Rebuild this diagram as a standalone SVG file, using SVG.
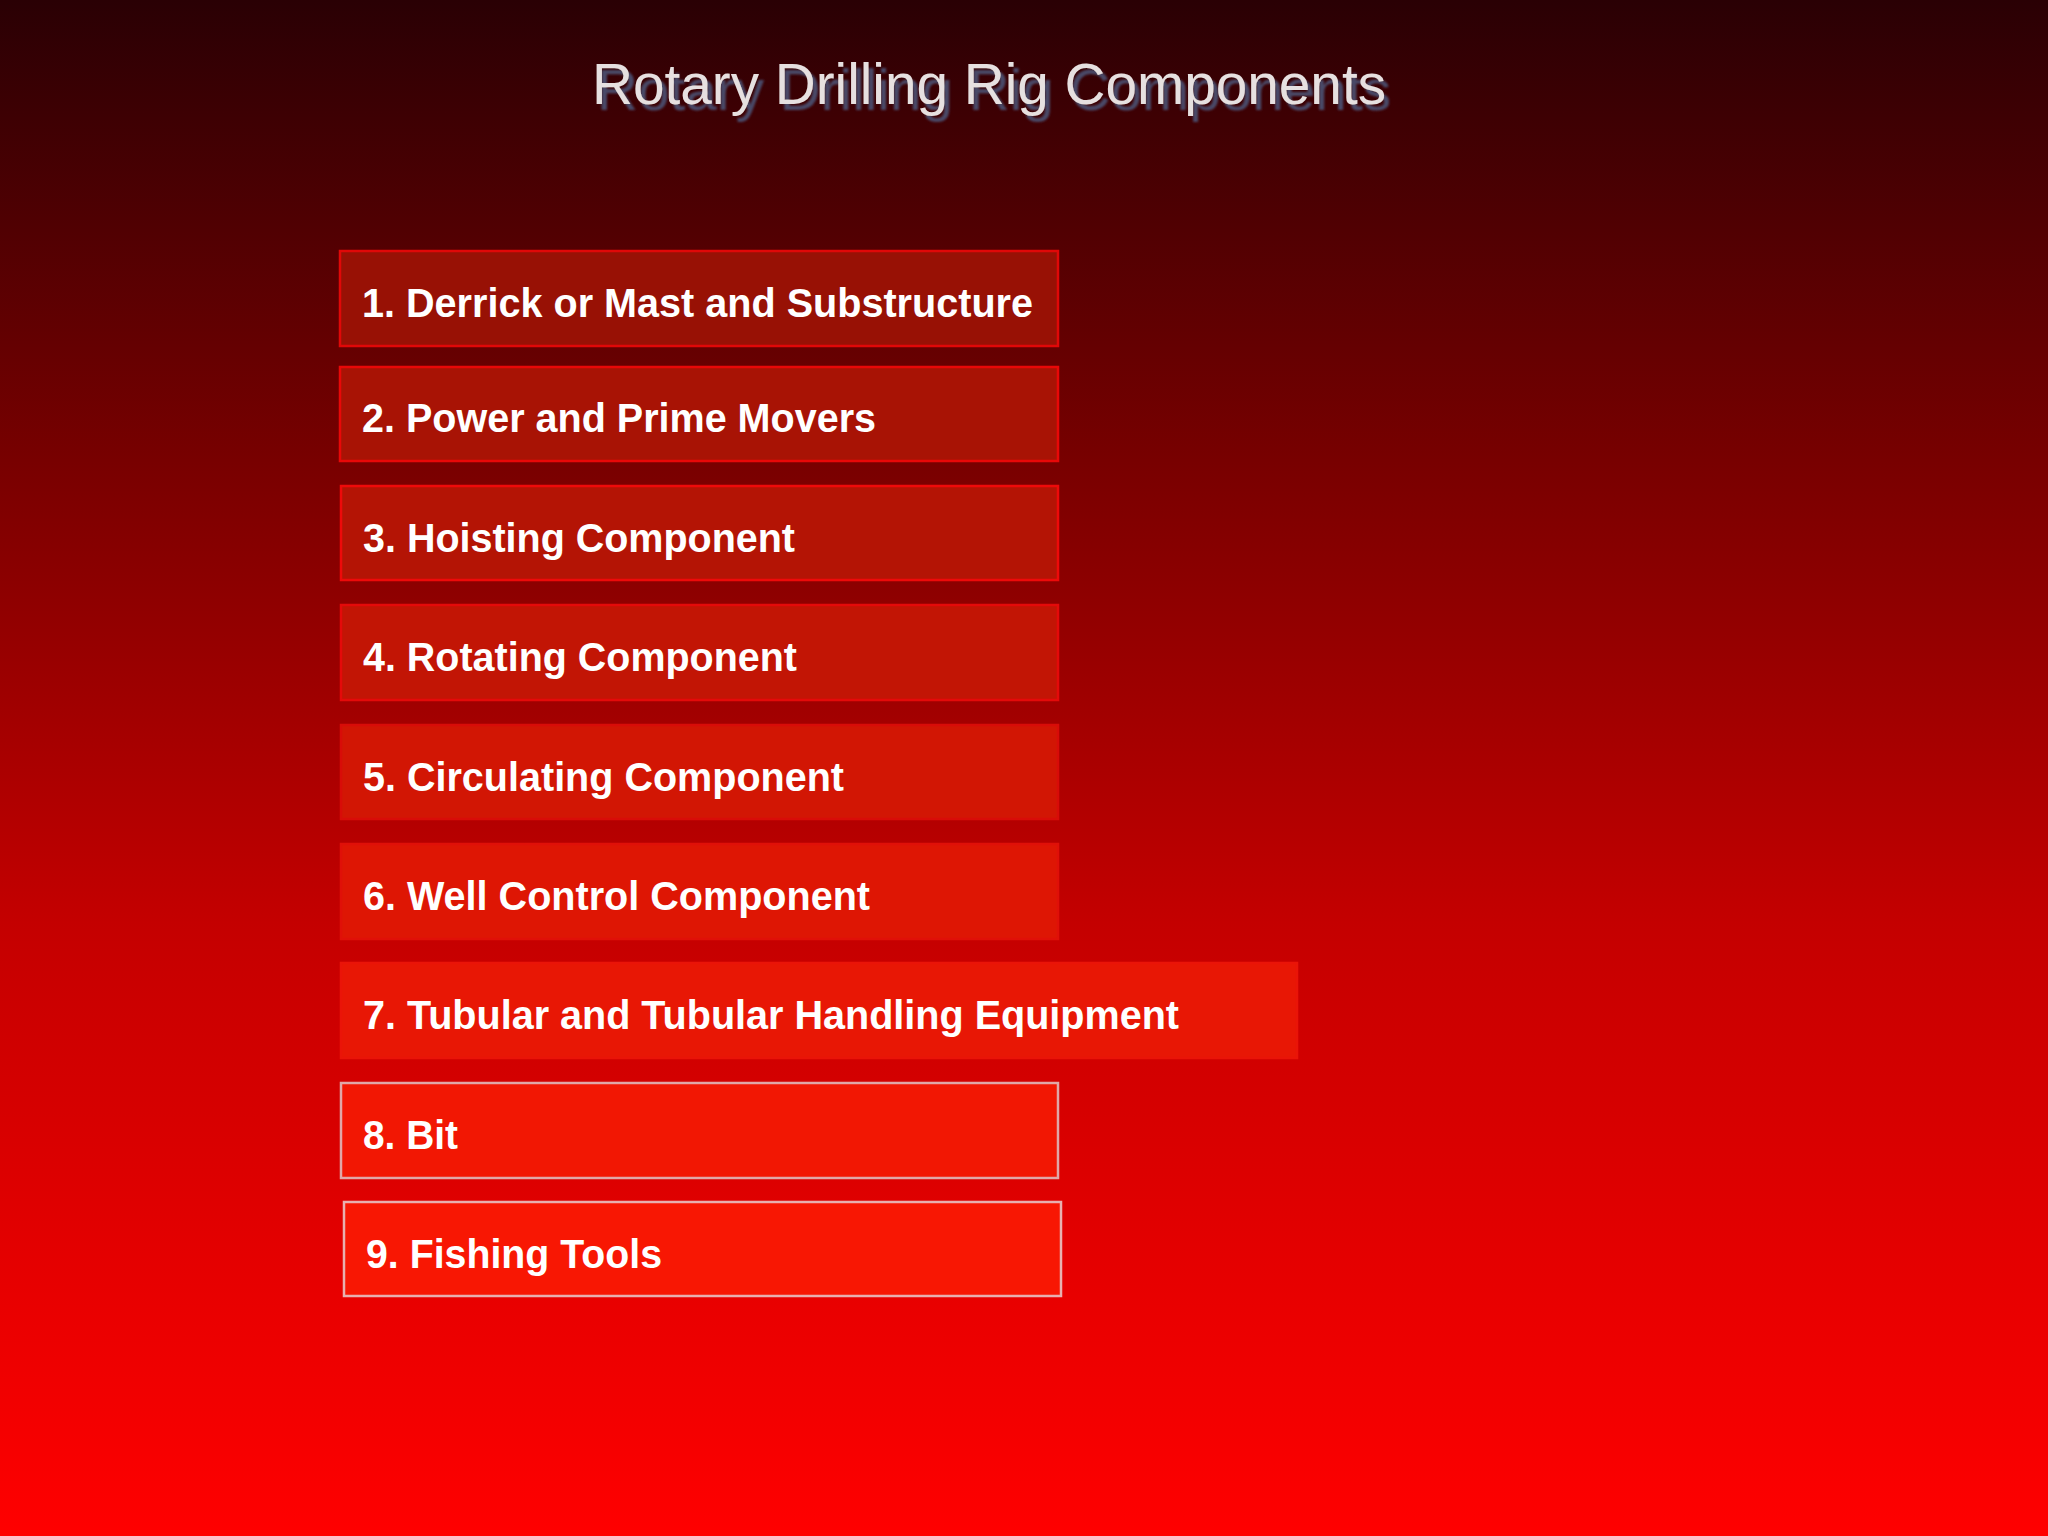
<svg xmlns="http://www.w3.org/2000/svg" width="2048" height="1536" viewBox="0 0 2048 1536">
<defs>
<linearGradient id="bg" x1="0" y1="0" x2="0" y2="1">
<stop offset="0" stop-color="#2a0004"/>
<stop offset="0.3" stop-color="#780000"/>
<stop offset="0.6" stop-color="#c40000"/>
<stop offset="1" stop-color="#ff0000"/>
</linearGradient>
<filter id="sh" x="-5%" y="-30%" width="110%" height="160%">
<feDropShadow dx="5" dy="6" stdDeviation="0.8" flood-color="#4a4868" flood-opacity="1"/>
</filter>
</defs>
<style>
.t{font-family:"Liberation Sans",Arial,sans-serif;font-weight:bold;font-size:40px;fill:#ffffff}
.ttl{font-family:"Liberation Sans",Arial,sans-serif;font-size:58px}
.b{stroke-width:2.5}
</style>
<rect width="2048" height="1536" fill="url(#bg)"/>
<g id="title">
<text class="ttl" x="989" y="104" text-anchor="middle" fill="#e6e0e0" filter="url(#sh)" textLength="794" lengthAdjust="spacingAndGlyphs">Rotary Drilling Rig Components</text>
</g>
<g id="n1"><rect class="b" x="340" y="251" width="718" height="95" fill="#981105" stroke="#e00808"/><text class="t" x="362" y="317" textLength="671" lengthAdjust="spacingAndGlyphs">1. Derrick or Mast and Substructure</text></g>
<g id="n2"><rect class="b" x="340" y="367" width="718" height="94" fill="#a81305" stroke="#e80808"/><text class="t" x="362" y="432" textLength="514" lengthAdjust="spacingAndGlyphs">2. Power and Prime Movers</text></g>
<g id="n3"><rect class="b" x="341" y="486" width="717" height="94" fill="#b41405" stroke="#ee0a0a"/><text class="t" x="363" y="552" textLength="432" lengthAdjust="spacingAndGlyphs">3. Hoisting Component</text></g>
<g id="n4"><rect class="b" x="341" y="605" width="717" height="95" fill="#c21505" stroke="#e40a0a"/><text class="t" x="363" y="671" textLength="434" lengthAdjust="spacingAndGlyphs">4. Rotating Component</text></g>
<g id="n5"><rect class="b" x="341" y="725" width="717" height="94" fill="#d21604" stroke="#d80c08"/><text class="t" x="363" y="791" textLength="481" lengthAdjust="spacingAndGlyphs">5. Circulating Component</text></g>
<g id="n6"><rect class="b" x="341" y="844" width="717" height="95" fill="#de1604" stroke="#e01008"/><text class="t" x="363" y="910" textLength="507" lengthAdjust="spacingAndGlyphs">6. Well Control Component</text></g>
<g id="n7"><rect class="b" x="341" y="963" width="956" height="95" fill="#e81705" stroke="#ea1408"/><text class="t" x="363" y="1029" textLength="816" lengthAdjust="spacingAndGlyphs">7. Tubular and Tubular Handling Equipment</text></g>
<g id="n8"><rect class="b" x="341" y="1083" width="717" height="95" fill="#f21703" stroke="#e0a8a8"/><text class="t" x="363" y="1149" textLength="95" lengthAdjust="spacingAndGlyphs">8. Bit</text></g>
<g id="n9"><rect class="b" x="344" y="1202" width="717" height="94" fill="#f81703" stroke="#e8b0b0"/><text class="t" x="366" y="1268" textLength="296" lengthAdjust="spacingAndGlyphs">9. Fishing Tools</text></g>
<g id="connectors"></g>
</svg>
